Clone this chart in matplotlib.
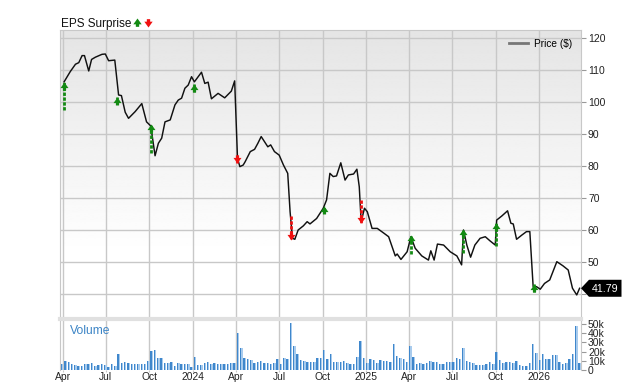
import matplotlib
import matplotlib.dates as mdates
import matplotlib.pyplot as plt
import matplotlib.transforms as mtransforms
import numpy as np
import pandas as pd
from matplotlib.lines import Line2D
from matplotlib.markers import MarkerStyle
from matplotlib.patches import Polygon
from matplotlib.path import Path

matplotlib.use("Agg")

plt.rcParams["font.family"] = ["Liberation Sans", "DejaVu Sans"]

# closing price ($)
price_dates = [
    "2023-04-04", "2023-04-17", "2023-04-28", "2023-05-05", "2023-05-12", "2023-05-17",
    "2023-05-26", "2023-06-01", "2023-06-09", "2023-06-23", "2023-06-30", "2023-07-07",
    "2023-07-20", "2023-07-28", "2023-08-03", "2023-08-11", "2023-08-18", "2023-09-01",
    "2023-09-15", "2023-09-25", "2023-10-04", "2023-10-13", "2023-10-20", "2023-10-27",
    "2023-11-03", "2023-11-14", "2023-11-24", "2023-12-01", "2023-12-08", "2023-12-15",
    "2023-12-22", "2023-12-29", "2024-01-04", "2024-01-19", "2024-01-26", "2024-02-02",
    "2024-02-09", "2024-02-23", "2024-03-08", "2024-03-22", "2024-03-29", "2024-04-04",
    "2024-04-09", "2024-04-16", "2024-04-20", "2024-05-01", "2024-05-10", "2024-05-17",
    "2024-05-24", "2024-05-31", "2024-06-07", "2024-06-13", "2024-06-21", "2024-07-01",
    "2024-07-10", "2024-07-19", "2024-07-24", "2024-07-29", "2024-08-03", "2024-08-10",
    "2024-08-21", "2024-08-29", "2024-09-04", "2024-09-18", "2024-10-02", "2024-10-09",
    "2024-10-16", "2024-10-23", "2024-10-30", "2024-11-08", "2024-11-17", "2024-11-24",
    "2024-12-05", "2024-12-12", "2024-12-17", "2024-12-21", "2024-12-28", "2025-01-03",
    "2025-01-13", "2025-01-24", "2025-02-07", "2025-02-17", "2025-03-03", "2025-03-07",
    "2025-03-15", "2025-03-28", "2025-04-05", "2025-04-14", "2025-04-28", "2025-05-12",
    "2025-05-17", "2025-05-24", "2025-05-31", "2025-06-13", "2025-06-27", "2025-07-11",
    "2025-07-21", "2025-07-25", "2025-08-01", "2025-08-09", "2025-08-18", "2025-08-29",
    "2025-09-09", "2025-09-19", "2025-09-30", "2025-10-03", "2025-10-14", "2025-10-26",
    "2025-11-02", "2025-11-07", "2025-11-14", "2025-11-25", "2025-12-05", "2025-12-12",
    "2025-12-19", "2025-12-26", "2026-01-03", "2026-01-12", "2026-01-23", "2026-02-07",
    "2026-02-20", "2026-03-03", "2026-03-12", "2026-03-21", "2026-03-27",
]
price_values = [
    106.3, 109.5, 111.8, 112.3, 114.5, 114.5,
    109.7, 113.3, 114.0, 114.9, 115.0, 112.9,
    113.1, 102.2, 102.0, 96.8, 94.9, 97.0,
    99.5, 93.8, 92.5, 83.2, 87.1, 88.7,
    93.8, 94.4, 99.1, 100.6, 101.2, 104.3,
    105.3, 107.9, 106.3, 109.3, 105.8, 106.2,
    101.0, 102.7, 101.3, 103.4, 106.6, 82.4,
    79.8, 80.3, 81.3, 84.5, 85.2, 87.1,
    89.2, 87.6, 86.0, 86.6, 84.5, 83.4,
    80.3, 77.7, 65.7, 57.4, 57.1, 60.0,
    61.3, 62.6, 61.9, 63.6, 66.8, 69.4,
    77.7, 76.7, 76.9, 81.0, 75.6, 77.2,
    77.5, 79.0, 73.5, 62.6, 66.8, 65.7,
    60.5, 60.5, 59.0, 57.9, 51.9, 52.5,
    50.8, 53.2, 57.9, 54.3, 51.9, 50.6,
    53.5, 50.6, 55.6, 55.3, 53.2, 51.9,
    49.1, 60.0, 55.3, 51.5, 55.3, 57.4,
    57.9, 56.6, 55.3, 63.1, 64.4, 66.0,
    62.1, 61.9, 57.1, 58.4, 59.5, 59.5,
    42.3, 42.3, 41.5, 43.3, 44.4, 50.1,
    48.8, 47.5, 41.8, 39.7, 41.79,
]
last_price = 41.79

# weekly volume (thousands), first week ending 2023-03-31
volume_start = "2023-03-31"
volume_k = [
    6.2, 9.9, 8.4, 6.2, 5.5, 4.4, 4.4, 6.6, 6.6, 8.1,
    4.8, 5.5, 6.2, 5.5, 3.7, 6.2, 4.8, 17.6, 8.1, 9.2,
    7.3, 7.0, 6.2, 6.6, 6.6, 6.6, 9.9, 20.9, 22.3, 12.8,
    12.8, 8.1, 7.3, 8.8, 4.8, 8.1, 7.0, 7.0, 6.2, 3.7,
    13.9, 5.5, 5.5, 7.3, 8.8, 7.0, 7.7, 6.6, 6.6, 6.6,
    6.6, 7.7, 7.3, 40.3, 23.8, 13.6, 11.7, 10.6, 8.1, 8.4,
    9.5, 7.7, 7.7, 6.2, 7.3, 12.1, 6.6, 13.2, 12.5, 51.3,
    26.4, 17.2, 10.6, 9.5, 9.2, 8.8, 8.8, 13.6, 13.2, 21.6,
    11.7, 17.6, 9.2, 8.4, 8.4, 9.9, 7.3, 6.6, 6.6, 13.9,
    31.1, 12.8, 7.3, 12.5, 11.0, 8.1, 11.4, 10.3, 10.3, 8.4,
    28.6, 15.0, 12.8, 11.7, 9.2, 26.4, 13.9, 6.6, 8.1, 7.0,
    7.3, 10.3, 8.8, 8.4, 6.6, 6.6, 8.4, 8.8, 8.8, 13.6,
    12.1, 24.2, 9.9, 8.8, 7.3, 5.9, 5.5, 5.5, 6.6, 8.4,
    7.0, 20.1, 11.0, 8.1, 9.2, 9.2, 7.3, 10.3, 5.9, 4.8,
    4.8, 7.3, 28.6, 19.0, 11.0, 17.2, 12.5, 12.5, 16.1, 16.5,
    8.8, 6.2, 7.7, 12.5, 17.2, 47.6, 8.1,
]

# earnings surprise arrows: dashed from eps_from up/down to eps_to
eps_dates = [
    "2023-04-04", "2023-07-24", "2023-10-04", "2024-01-03", "2024-04-02", "2024-07-25",
    "2024-10-03", "2024-12-20", "2025-04-05", "2025-07-25", "2025-10-02", "2025-12-20",
]
eps_from = [97.5, 99.5, 84.0, 103.2, 83.5, 64.5, 66.0, 69.5, 52.5, 52.9, 55.0, 40.7]
eps_to = [106.3, 101.7, 93.0, 105.5, 81.0, 57.0, 67.5, 62.3, 58.4, 60.2, 62.3, 43.1]

GREEN = "#138a13"
RED = "#f01010"
GRID = "#c8c8c8"

up_arrow = MarkerStyle(Path([(0, 0), (-1, -1.4), (-0.4, -1.4), (-0.4, -2.0),
                             (0.4, -2.0), (0.4, -1.4), (1, -1.4), (0, 0)]))
down_arrow = MarkerStyle(Path([(0, 0), (-1, 1.4), (-0.4, 1.4), (-0.4, 2.0),
                               (0.4, 2.0), (0.4, 1.4), (1, 1.4), (0, 0)]))


def quarter_label(x, pos):
    d = mdates.num2date(x)
    return str(d.year) if d.month == 1 else d.strftime("%b")


p_dates = pd.to_datetime(price_dates)
v_dates = pd.date_range(volume_start, periods=len(volume_k), freq="7D")
e_dates = pd.to_datetime(eps_dates)

fig = plt.figure(figsize=(6.4, 3.82), dpi=100)
W, H = 640.0, 382.0
ax_p = fig.add_axes([60.3 / W, (H - 318) / H, 520.7 / W, 288 / H])
ax_v = fig.add_axes([60.3 / W, (H - 370) / H, 520.7 / W, 51 / H], sharex=ax_p)

# grey-to-white background of the price panel
grad = np.clip(0.895 + 0.105 * np.linspace(0, 1, 200) / 0.78, 0, 1)[:, None]
ax_p.imshow(grad, extent=[0, 1, 0, 1], transform=ax_p.transAxes, aspect="auto",
            cmap="gray", vmin=0, vmax=1, zorder=0, interpolation="bilinear")

ax_p.plot(p_dates, price_values, color="#111111", lw=1.05, zorder=3, label="Price ($)")

for d, a, b in zip(e_dates, eps_from, eps_to):
    col = GREEN if b > a else RED
    ax_p.plot([d, d], [a, b], color=col, lw=2.0, linestyle=(0, (1.2, 0.55)),
              zorder=4, solid_capstyle="butt")
    ax_p.plot([d], [b], marker=up_arrow if b > a else down_arrow, markersize=11.5,
              color=col, markeredgewidth=0, linestyle="none", zorder=5)

ax_p.set_ylim(32.5, 122.5)
ticks = list(range(40, 121, 10))
ax_p.set_yticks(ticks, labels=[""] + [str(t) for t in ticks[1:]])
ax_p.yaxis.tick_right()
ax_p.tick_params(axis="y", length=3.5, color="#999999", labelcolor="#222222",
                 labelsize=7.5, pad=1.5)
ax_p.tick_params(axis="x", length=0, labelbottom=False)
ax_p.grid(True, color=GRID, lw=1.0, zorder=1)
ax_p.set_axisbelow(True)
for side in ("left", "right", "top"):
    ax_p.spines[side].set_color(GRID)
ax_p.spines["bottom"].set_visible(False)

leg = ax_p.legend(loc="upper right", frameon=False, fontsize=7.3, handlelength=1.9,
                  borderaxespad=0.45, handletextpad=0.6)
for h in leg.legend_handles:
    h.set_color("#777777")
    h.set_linewidth(2.0)

# last price tag
anchor = mtransforms.blended_transform_factory(ax_p.transAxes, ax_p.transData)
tag_tr = fig.dpi_scale_trans + mtransforms.ScaledTranslation(1.0, last_price, anchor)
tag = Polygon([(0, 0), (0.08, 0.085), (0.405, 0.085), (0.405, -0.085), (0.08, -0.085)],
              closed=True, transform=tag_tr, facecolor="black", edgecolor="none",
              clip_on=False, zorder=6)
ax_p.add_artist(tag)
ax_p.text(0.245, -0.003, f"{last_price:.2f}", transform=tag_tr, color="white",
          fontsize=7.7, ha="center", va="center", zorder=7, clip_on=False)

# volume panel
day = pd.Timedelta(days=1)
ax_v.bar(v_dates - 1.35 * day, volume_k, width=2.7, color="#3f87cc", zorder=2)
ax_v.bar(v_dates + 1.35 * day, volume_k, width=2.7, color="#a8cbed", zorder=2)
ax_v.set_ylim(0, 55.5)
vt = list(range(0, 51, 10))
ax_v.set_yticks(vt, labels=["0"] + [f"{t}k" for t in vt[1:]])
ax_v.yaxis.tick_right()
ax_v.tick_params(axis="y", length=3.5, color="#999999", labelcolor="#222222",
                 labelsize=7.5, pad=1.5)
ax_v.grid(True, axis="x", color=GRID, lw=1.0, zorder=1)
ax_v.set_axisbelow(True)
ax_v.spines["top"].set_color("#e0e0e0")
ax_v.spines["top"].set_linewidth(3)
ax_v.spines["left"].set_color(GRID)
ax_v.spines["right"].set_color(GRID)
ax_v.spines["bottom"].set_visible(False)
ax_v.text(0.019, 0.70, "Volume", transform=ax_v.transAxes, color="#3d85c6",
          fontsize=8.7, va="baseline")

ax_v.xaxis.set_major_locator(mdates.MonthLocator(bymonth=[1, 4, 7, 10]))
ax_v.xaxis.set_major_formatter(plt.FuncFormatter(quarter_label))
ax_v.tick_params(axis="x", length=1.5, color=GRID, labelcolor="#222222",
                 labelsize=7.4, pad=0.3)
ax_v.set_xlim(pd.Timestamp("2023-03-27"), pd.Timestamp("2026-03-30"))

# "EPS Surprise" header with its two glyphs
fig.text(60.7 / W, 1 - 26.7 / H, "EPS Surprise", fontsize=8.5, color="#111111",
         va="baseline")
fig.add_artist(Line2D([137.3 / W], [1 - 18.3 / H], transform=fig.transFigure,
                      marker=up_arrow, markersize=12, color=GREEN, markeredgewidth=0))
fig.add_artist(Line2D([148.0 / W], [1 - 26.7 / H], transform=fig.transFigure,
                      marker=down_arrow, markersize=12, color=RED, markeredgewidth=0))

fig.savefig("out.png", dpi=100)
plt.close(fig)
